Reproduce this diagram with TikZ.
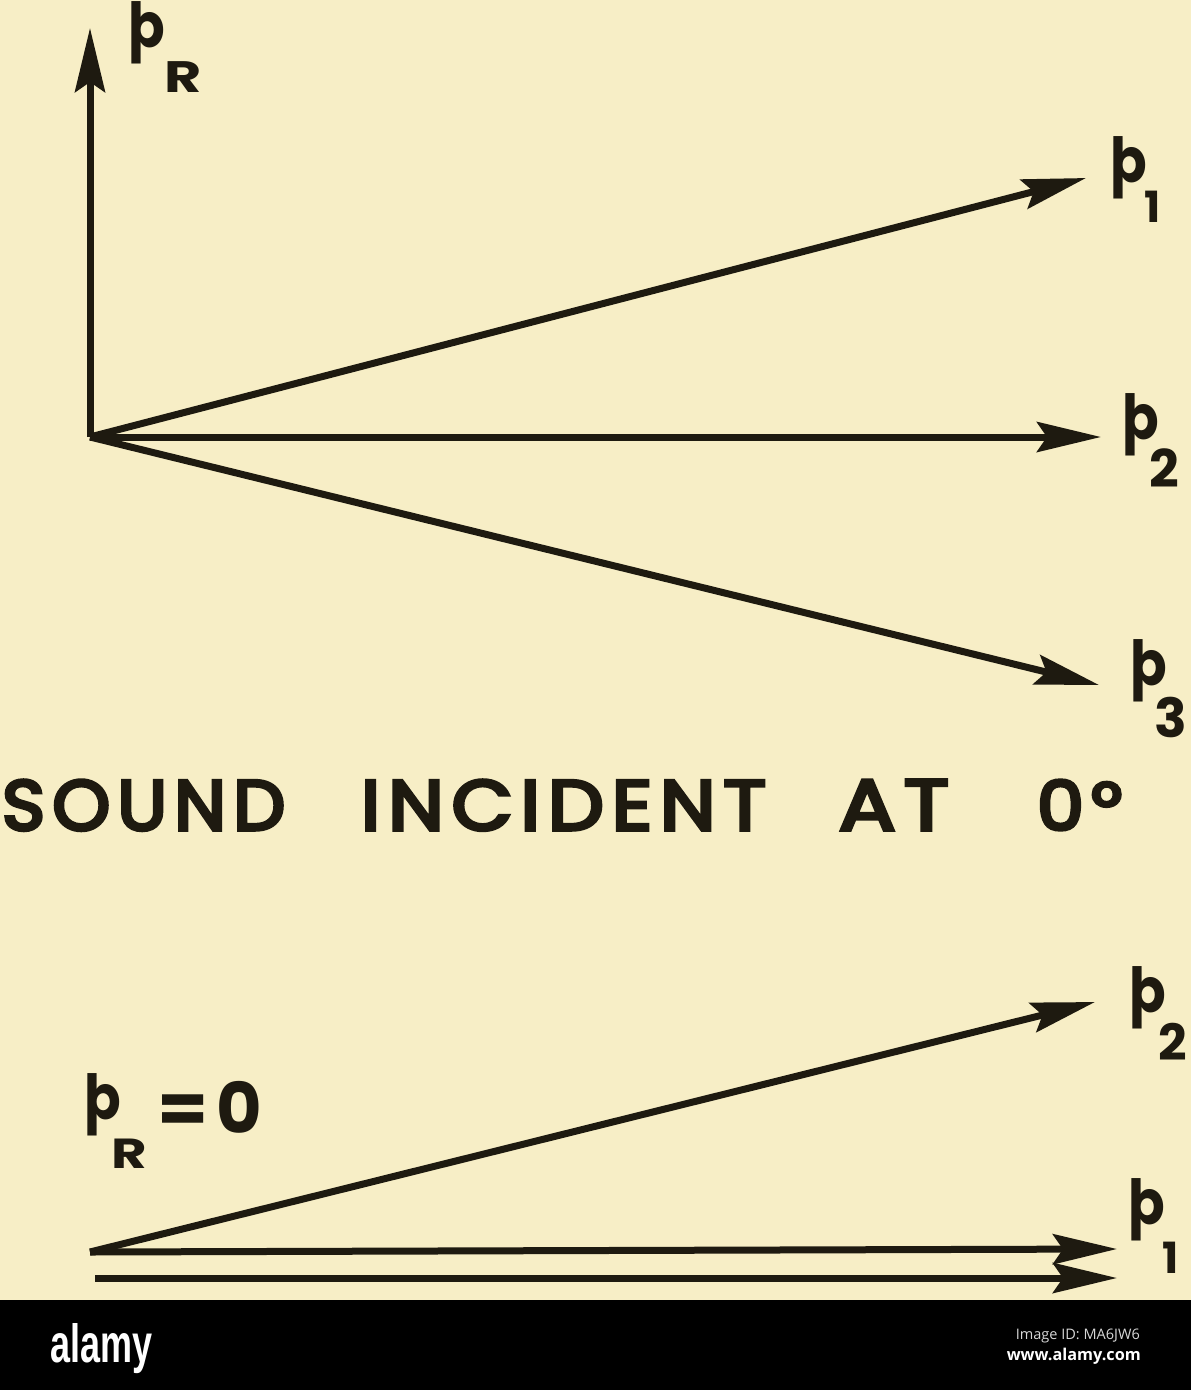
\documentclass[tikz,border=0pt]{standalone}
\usepackage{fontspec}
\usepackage{graphicx}
\setmainfont{Poppins}
\newfontfamily\leroy{Poppins}[FakeBold=5, LetterSpace=10]
\newfontfamily\barfont{Liberation Sans}
\newfontfamily\idfont{Open Sans}
\usetikzlibrary{arrows.meta}
\definecolor{paper}{RGB}{247,238,198}
\definecolor{ink}{RGB}{30,26,16}
\definecolor{idgray}{RGB}{215,215,215}
\newcommand\thp[4]{\scalebox{1}[1.15]{þ}\kern#3\raisebox{-#2}{\fontsize{#4}{#4}\selectfont #1}}
\newcommand\wideR{\scalebox{1.3}[1]{R}}
\tikzset{
  vec/.style={draw=ink, line width=7pt, -{Stealth[length=64pt,width=30pt,inset=10pt]}},
  lab/.style={inner sep=0pt, outer sep=0pt, anchor=base west, text=ink, font=\fontsize{54}{54}\selectfont\bfseries},
  word/.style={inner sep=0pt, outer sep=0pt, anchor=base west, text=ink, font=\leroy},
}
\begin{document}
\begin{tikzpicture}[x=1pt,y=-1pt]
\fill[paper] (0,0) rectangle (1191,1390);
\useasboundingbox (0,0) rectangle (1191,1390);
% ---- upper diagram
\coordinate (O) at (90,437);
\coordinate (R) at (90,28);
\coordinate (T1) at (1086,178);
\coordinate (T2) at (1101,437);
\coordinate (T3) at (1099,685);
\draw[vec] (O) -- (R);
\draw[vec] (O) -- (T1);
\draw[vec] (O) -- (T2);
\draw[vec] (O) -- (T3);
\node[lab] (lR) at (128,47) {\thp{\wideR}{45pt}{0pt}{44}};
\node[lab] (l1) at (1110,182) {\thp{1}{40pt}{-2pt}{43}};
\node[lab] (l2) at (1122,439) {\thp{2}{48pt}{-9pt}{52}};
\node[lab] (l3) at (1130,685) {\thp{3}{52pt}{-12pt}{54}};
% ---- caption
\node[word] (w1) at (2,830) {\resizebox{283pt}{50pt}{SOUND}};
\node[word] (w2) at (361,830) {\resizebox{405pt}{50pt}{INCIDENT}};
\node[word] (w3) at (839,830) {\resizebox{110pt}{50pt}{AT}};
\node[word] (w4) at (1037,830) {\resizebox{85pt}{50pt}{0°}};
% ---- lower diagram
\coordinate (Ob) at (90,1252);
\coordinate (B2) at (1095,1002);
\coordinate (B1) at (1117,1249);
\coordinate (Oc) at (95,1278);
\coordinate (B3) at (1117,1278);
\draw[vec] (Ob) -- (B2);
\draw[vec] (Ob) -- (B1);
\draw[vec] (Oc) -- (B3);
\node[lab] (m2) at (1129,1012) {\thp{2}{48pt}{-7pt}{50}};
\node[lab] (m1) at (1128,1224) {\thp{1}{49pt}{-2pt}{43}};
\node[lab] (m0) at (84,1119) {\thp{\wideR}{49pt}{-9pt}{42}\kern10pt\raisebox{-14pt}{\fontsize{70}{70}\selectfont \scalebox{1.05}[1]{=}\kern8pt0}};
% ---- bottom bar
\fill[black] (0,1300) rectangle (1191,1390);
\node[inner sep=0pt, anchor=base west, text=white] (logo) at (50,1362) {\resizebox{102pt}{39pt}{\barfont\bfseries alamy}};
\node[inner sep=0pt, anchor=base east, text=idgray] (imgid) at (1140,1339) {\resizebox{124pt}{!}{\idfont Image ID: MA6JW6}};
\node[inner sep=0pt, anchor=base east, text=white] (url) at (1141,1360) {\resizebox{134pt}{!}{\idfont\bfseries www.alamy.com}};
\end{tikzpicture}
\end{document}
